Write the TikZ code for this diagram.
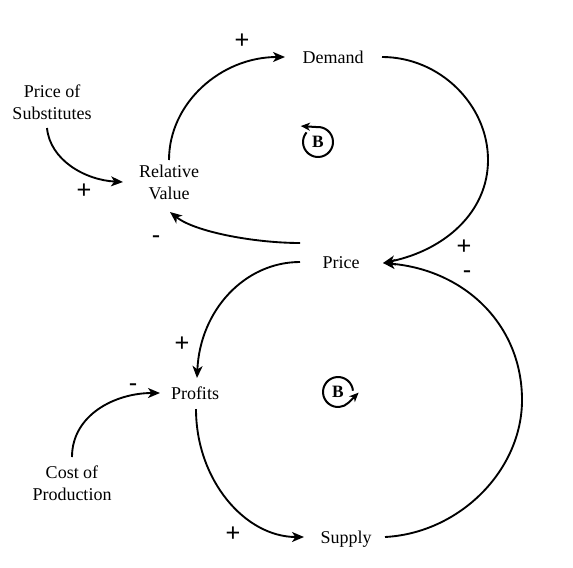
\documentclass[tikz,border=0pt]{standalone}
\usepackage{fontspec}
\setmainfont{Liberation Serif}
\newfontfamily\signfont{Liberation Sans}
\usetikzlibrary{arrows.meta}
\begin{document}
\begin{tikzpicture}[x=0.75pt,y=-0.75pt,
  lbl/.style={font=\fontsize{13.5}{16.5}\selectfont, align=center, inner sep=0pt},
  sgn/.style={font=\signfont\fontsize{19}{19}\selectfont, inner sep=0pt, anchor=base},
  link/.style={line width=1.4pt, -{Stealth[length=9pt,width=7.5pt,inset=2.5pt]}},
  loopc/.style={line width=1.5pt, -{Stealth[length=7pt,width=6pt,inset=2pt]}},
  loopt/.style={font=\bfseries\fontsize{13}{13}\selectfont, inner sep=0pt}]
\useasboundingbox (0,0) rectangle (573,567);

% variables
\node[lbl] (demand) at (333,57) {Demand};
\node[lbl] (subs) at (52,102) {Price of\\Substitutes};
\node[lbl] (relval) at (169,182) {Relative\\Value};
\node[lbl] (price) at (341,263) {Price};
\node[lbl] (profits) at (195,393) {Profits};
\node[lbl] (cost) at (72,483) {Cost of\\Production};
\node[lbl] (supply) at (346,539) {Supply};

% links
\draw[link] ([shift={(0,-22)}]relval.center) .. controls (169,103) and (221,57) .. ([shift={(-48,0)}]demand.center);
\draw[link] ([shift={(49,0)}]demand.center) .. controls (440,57) and (488,105) .. (488,160) .. controls (488,212) and (445,250) .. ([shift={(42,0)}]price.center);
\draw[link] ([shift={(-41,-20)}]price.center) .. controls (255,243) and (195,232) .. ([shift={(1,30)}]relval.center);
\draw[link] ([shift={(-5,26)}]subs.center) .. controls (50,160) and (85,180) .. ([shift={(-46,0)}]relval.center);
\draw[link] ([shift={(-41,-1)}]price.center) .. controls (245,262) and (200,310) .. ([shift={(2,-15)}]profits.center);
\draw[link] ([shift={(0,-26)}]cost.center) .. controls (72,415) and (115,393) .. ([shift={(-35,0)}]profits.center);
\draw[link] ([shift={(1,16)}]profits.center) .. controls (196,480) and (245,537) .. ([shift={(-42,-2)}]supply.center);
\draw[link] ([shift={(39,-2)}]supply.center) .. controls (460,533) and (522,470) .. (522,400) .. controls (522,325) and (465,270) .. ([shift={(42,0)}]price.center);

% polarities
\node[sgn] (p1) at (242,49) {+};
\node[sgn] (p2) at (464,254) {+};
\node[sgn] (m1) at (467,278) {-};
\node[sgn] (m2) at (156,243) {-};
\node[sgn] (p3) at (84,198) {+};
\node[sgn] (p4) at (182,351) {+};
\node[sgn] (m3) at (133,391) {-};
\node[sgn] (p5) at (233,541) {+};

% loop markers
\node[loopt] (b1) at (318,142) {B};
\draw[loopc] ([shift={(140:11.25pt)}]b1.center) arc[start angle=140, end angle=455, radius=11.25pt] -- ++(-16,-1);
\node[loopt] (b2) at (338,392) {B};
\draw[loopc] ([shift={(5:11.25pt)}]b2.center) arc[start angle=5, end angle=315, radius=11.25pt] -- ++(10,-10);
\end{tikzpicture}
\end{document}
